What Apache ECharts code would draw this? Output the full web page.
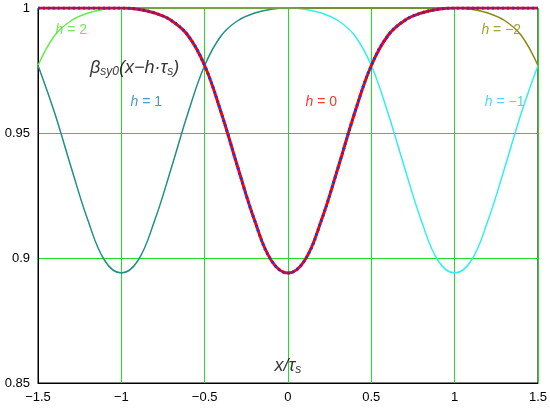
<!DOCTYPE html><html><head><meta charset="utf-8"><script src="https://cdn.jsdelivr.net/npm/echarts@6/dist/echarts.min.js"></script></head><body style="margin:0"><div id="c" style="width:550px;height:416px"></div><script>
// dip profile read from the h=0 curve, offsets in x/τs
const profileX=[-1.0,-0.9,-0.8,-0.7,-0.6,-0.5,-0.4,-0.3,-0.2,-0.1,0,0.1,0.2,0.3,0.4,0.5,0.6,0.7,0.8,0.9,1.0];
const profileY=[1.0,0.9995,0.998,0.995,0.989,0.977,0.958,0.936,0.915,0.899,0.894,0.899,0.915,0.936,0.958,0.977,0.989,0.995,0.998,0.9995,1.0];
const shifts=[2,1,0,-1,-2]; // h values; centre = -h
const colors={2:'#55dd33',1:'#1a7fb0',0:'#ff0000','-1':'#22ccee','-2':'#8a8a10'};
const curveColors={2:'#66ee44',1:'#1f8f8a',0:'#ff0000','-1':'#33eeee','-2':'#8a8a10'};
const labelText=['h = 2','h = 1','h = 0','h = −1','h = −2'];
const labelPos=[[-1.3,0.991],[-0.85,0.9625],[0.2,0.9625],[1.3,0.9625],[1.28,0.991]];
function clipCurve(h){const c=-h;const pts=[];
 for(let i=0;i<profileX.length;i++){const x=profileX[i]+c;if(x>=-1.5001&&x<=1.5001)pts.push([x,profileY[i]]);}
 if(c-1>-1.5)pts.unshift([-1.5,1]);if(c+1<1.5)pts.push([1.5,1]);return pts;}
const tf=v=>{const m={'-1.5':'−1.5','-1':'−1','-0.5':'−0.5'};return m[String(v)]||String(v);};
const series=[];
shifts.forEach(h=>{series.push({type:'line',data:clipCurve(h),smooth:0.4,symbol:'none',lineStyle:{color:curveColors[h],width:h===0?3:1.5},z:h===0?5:3});});
series.push({type:'line',data:clipCurve(0),smooth:0.4,symbol:'none',lineStyle:{color:'#2233dd',width:3,type:[2,3]},z:6});
series.push({type:'scatter',symbolSize:0,z:10,data:labelPos.map((p,i)=>({value:p,label:{show:true,position:'inside',formatter:'{i|h} = '+labelText[i].split('= ')[1],color:colors[shifts[i]],fontSize:14,rich:{i:{fontStyle:'italic',fontSize:14,color:colors[shifts[i]]}}}})).concat([
 {value:[-0.92,0.976],label:{show:true,position:'inside',formatter:'{i|β}{s|sy0}{i|(x−h·τ}{s|s}{i|)}',rich:{i:{fontStyle:'italic',fontSize:18,color:'#000'},s:{fontStyle:'italic',fontSize:12,color:'#000',padding:[8,0,0,0]}}}},
 {value:[0,0.857],label:{show:true,position:'inside',formatter:'{i|x/τ}{s|s}',rich:{i:{fontStyle:'italic',fontSize:18,color:'#000'},s:{fontStyle:'italic',fontSize:12,color:'#000',padding:[8,0,0,0]}}}}])});
echarts.init(document.getElementById('c')).setOption({animation:false,
 grid:{left:38,right:10,top:8,bottom:33,show:true,borderColor:'#000',borderWidth:1},
 xAxis:{type:'value',min:-1.5,max:1.5,interval:0.5,axisLine:{onZero:false,lineStyle:{color:'#000'}},axisTick:{show:false},splitLine:{lineStyle:{color:'#22dd22',width:1}},axisLabel:{formatter:tf,color:'#000',fontSize:13,fontFamily:'Liberation Sans',margin:8}},
 yAxis:{type:'value',min:0.85,max:1,interval:0.05,axisLine:{onZero:false,lineStyle:{color:'#000'}},axisTick:{show:false},splitLine:{lineStyle:{color:'#22dd22',width:1}},axisLabel:{formatter:v=>String(+v.toFixed(2)),color:'#000',fontSize:13,fontFamily:'Liberation Sans'}},
 series});
</script></body></html>
